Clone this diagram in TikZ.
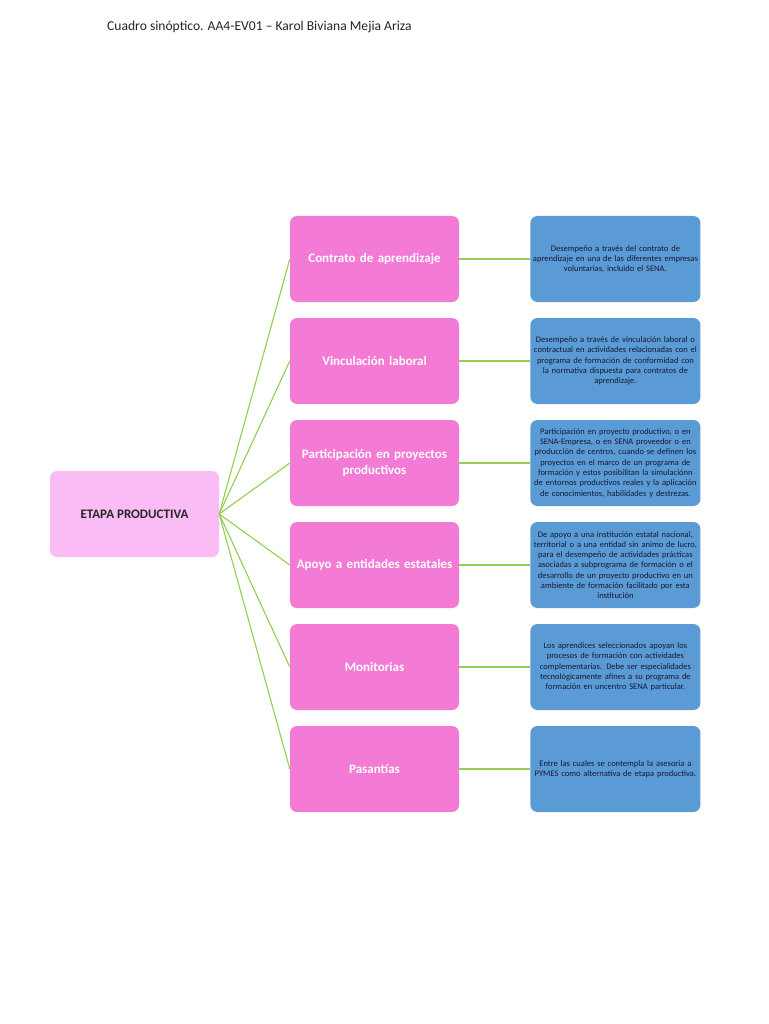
\documentclass[tikz,border=0pt]{standalone}
\usepackage{fontspec}
\setmainfont{Carlito}
\usetikzlibrary{positioning}
\definecolor{EtapaPink}{RGB}{250, 188, 245}
\definecolor{ModPink}{RGB}{243, 123, 214}
\definecolor{DescBlue}{RGB}{91, 155, 213}
\definecolor{LinkGreen}{RGB}{146, 208, 80}
\definecolor{DescText}{RGB}{20, 25, 50}
\tikzset{
  etapa/.style={rectangle, rounded corners=7pt, fill=EtapaPink, minimum width=169pt,
    minimum height=86pt, align=center, font=\fontsize{13}{15}\selectfont\bfseries, text=black!85},
  modal/.style={rectangle, rounded corners=7pt, fill=ModPink, minimum width=169pt,
    minimum height=86pt, text width=166pt, align=center, inner sep=1pt,
    font=\fontsize{13}{15.5}\selectfont\bfseries, text=white},
  desc/.style={rectangle, rounded corners=7pt, fill=DescBlue, minimum width=170pt,
    minimum height=86pt, text width=168pt, align=center, inner sep=1pt,
    font=\fontsize{8.5}{10.3}\selectfont, text=DescText},
  link/.style={LinkGreen, line width=1.1pt},
}
\begin{document}
\begin{tikzpicture}[x=1pt, y=1pt]
    \useasboundingbox (0,0) rectangle (768,-1024);
    \fill[white] (0,0) rectangle (768,-1024);
    \node[anchor=west, font=\fontsize{13.6}{15}\selectfont, text=black!85, inner sep=0pt] (title) at (107,-27)
      {Cuadro sinóptico. AA4-EV01 – Karol Biviana Mejia Ariza};
    \node[etapa] (etapa) at (134.5,-514) {ETAPA PRODUCTIVA};
    % modalidades
    \node[modal] (contrato) at (374.5,-259) {Contrato de aprendizaje};
    \node[modal, below=15.6pt of contrato] (vinculacion) {Vinculación laboral};
    \node[modal, below=15.6pt of vinculacion] (proyectos) {Participación en proyectos\\productivos};
    \node[modal, below=15.6pt of proyectos] (apoyo) {Apoyo a entidades estatales};
    \node[modal, below=15.6pt of apoyo] (monitorias) {Monitorias};
    \node[modal, below=15.6pt of monitorias] (pasantias) {Pasantías};
    % descripciones
    \node[desc, right=71pt of contrato] (dcontrato) {Desempeño a través del contrato de\\aprendizaje en una de las diferentes empresas\\voluntarias, incluido el SENA.};
    \node[desc, right=71pt of vinculacion] (dvinculacion) {Desempeño a través de vinculación laboral o\\contractual en actividades relacionadas con el\\programa de formación de conformidad con\\la normativa dispuesta para contratos de\\aprendizaje.};
    \node[desc, right=71pt of proyectos] (dproyectos) {Participación en proyecto productivo, o en\\SENA-Empresa, o en SENA proveedor o en\\producción de centros, cuando se definen los\\proyectos en el marco de un programa de\\formación y estos posibilitan la simulaciónn\\de entornos productivos reales y la aplicación\\de conocimientos, habilidades y destrezas.};
    \node[desc, right=71pt of apoyo] (dapoyo) {De apoyo a una institución estatal nacional,\\territorial o a una entidad sin animo de lucro,\\para el desempeño de actividades prácticas\\asociadas a subprograma de formación o el\\desarrollo de un proyecto productivo en un\\ambiente de formación facilitado por esta\\institución};
    \node[desc, right=71pt of monitorias] (dmonitorias) {Los aprendices seleccionados apoyan los\\procesos de formación con actividades\\complementarias. Debe ser especialidades\\tecnológicamente afines a su programa de\\formación en uncentro SENA particular.};
    \node[desc, right=71pt of pasantias] (dpasantias) {Entre las cuales se contempla la asesoria a\\PYMES como alternativa de etapa productiva.};
    % conectores
    \foreach \m in {contrato, vinculacion, proyectos, apoyo, monitorias, pasantias} {
      \draw[link] (etapa.east) -- (\m.west);
    }
    \draw[link] (contrato) -- (dcontrato);
    \draw[link] (vinculacion) -- (dvinculacion);
    \draw[link] (proyectos) -- (dproyectos);
    \draw[link] (apoyo) -- (dapoyo);
    \draw[link] (monitorias) -- (dmonitorias);
    \draw[link] (pasantias) -- (dpasantias);
\end{tikzpicture}
\end{document}
